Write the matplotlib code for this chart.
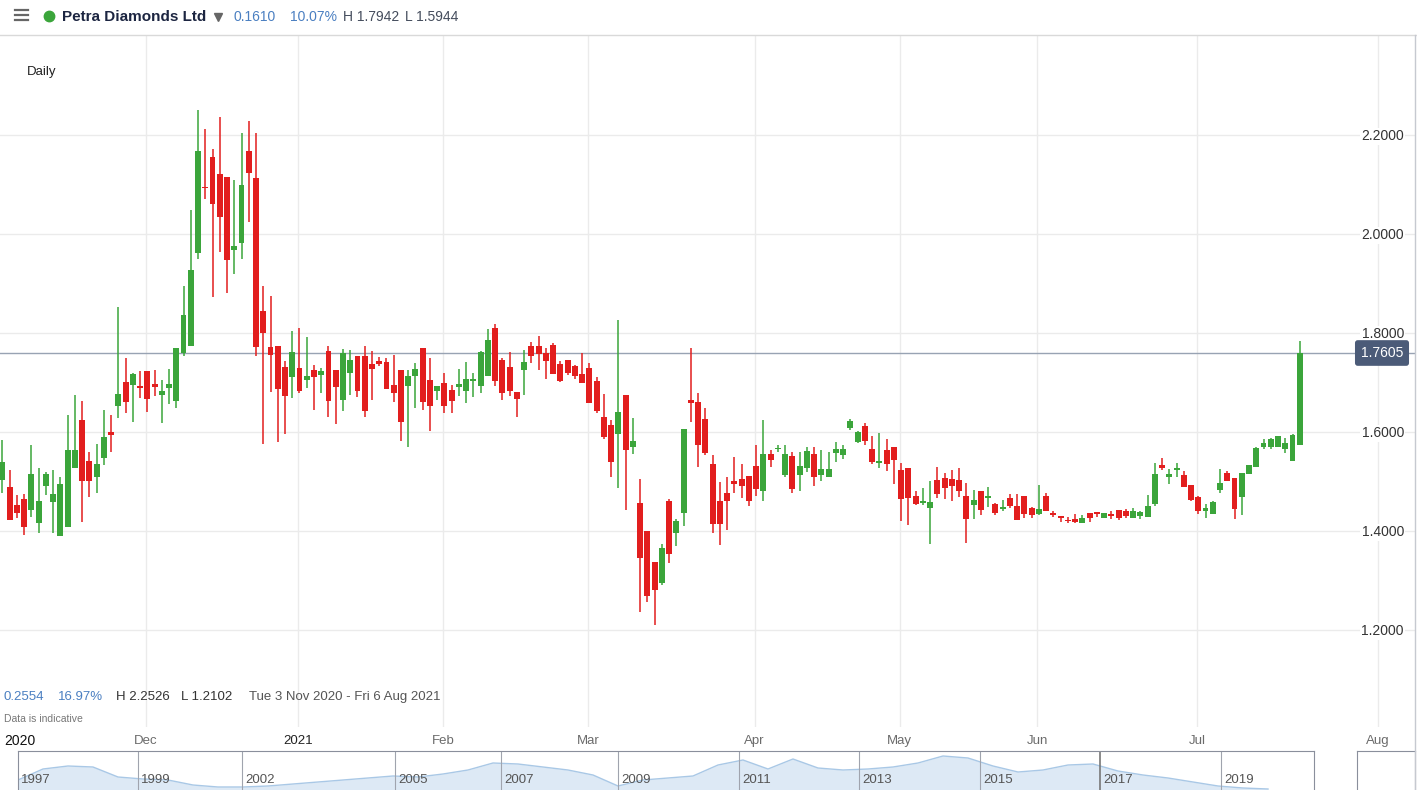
import numpy as np
import matplotlib
matplotlib.use("Agg")
import matplotlib.pyplot as plt
from matplotlib.lines import Line2D

plt.rcParams['font.family'] = ['Liberation Sans', 'DejaVu Sans']

# daily OHLC, Petra Diamonds, 3 Nov 2020 onwards
opens = [1.503, 1.488, 1.453, 1.465, 1.442, 1.417, 1.490, 1.459, 1.389, 1.409,
         1.527, 1.624, 1.541, 1.510, 1.548, 1.600, 1.653, 1.701, 1.694, 1.692,
         1.723, 1.697, 1.675, 1.688, 1.663, 1.759, 1.774, 1.962, 2.095, 2.156,
         2.121, 2.115, 1.968, 1.982, 2.168, 2.113, 1.844, 1.772, 1.773, 1.731,
         1.711, 1.729, 1.705, 1.725, 1.715, 1.763, 1.725, 1.665, 1.719, 1.753,
         1.753, 1.737, 1.743, 1.741, 1.695, 1.725, 1.693, 1.713, 1.769, 1.705,
         1.683, 1.699, 1.685, 1.691, 1.683, 1.703, 1.693, 1.713, 1.811, 1.745,
         1.731, 1.681, 1.725, 1.773, 1.773, 1.759, 1.775, 1.737, 1.745, 1.733,
         1.717, 1.729, 1.703, 1.631, 1.615, 1.595, 1.675, 1.569, 1.457, 1.400,
         1.337, 1.294, 1.461, 1.395, 1.436, 1.664, 1.660, 1.626, 1.536, 1.461,
         1.477, 1.501, 1.505, 1.511, 1.532, 1.480, 1.556, 1.565, 1.514, 1.552,
         1.514, 1.528, 1.556, 1.514, 1.510, 1.558, 1.554, 1.609, 1.579, 1.612,
         1.566, 1.538, 1.564, 1.570, 1.524, 1.528, 1.471, 1.456, 1.446, 1.502,
         1.508, 1.506, 1.502, 1.471, 1.452, 1.481, 1.466, 1.455, 1.444, 1.467,
         1.451, 1.471, 1.447, 1.434, 1.471, 1.437, 1.431, 1.423, 1.425, 1.416,
         1.437, 1.439, 1.427, 1.435, 1.443, 1.441, 1.427, 1.431, 1.429, 1.455,
         1.533, 1.509, 1.523, 1.513, 1.493, 1.469, 1.441, 1.435, 1.483, 1.517,
         1.507, 1.469, 1.515, 1.529, 1.569, 1.569, 1.569, 1.565, 1.541, 1.573]
highs = [1.584, 1.523, 1.473, 1.475, 1.574, 1.527, 1.520, 1.523, 1.510, 1.634,
         1.675, 1.663, 1.560, 1.576, 1.644, 1.634, 1.853, 1.750, 1.720, 1.723,
         1.723, 1.725, 1.705, 1.727, 1.770, 1.894, 2.048, 2.251, 2.212, 2.172,
         2.237, 2.115, 2.109, 2.204, 2.228, 2.204, 1.895, 1.875, 1.773, 1.743,
         1.805, 1.811, 1.791, 1.735, 1.729, 1.773, 1.725, 1.767, 1.765, 1.753,
         1.773, 1.763, 1.751, 1.749, 1.755, 1.725, 1.725, 1.739, 1.769, 1.749,
         1.693, 1.719, 1.695, 1.727, 1.741, 1.719, 1.763, 1.809, 1.819, 1.749,
         1.761, 1.681, 1.765, 1.781, 1.793, 1.769, 1.779, 1.743, 1.745, 1.735,
         1.759, 1.739, 1.711, 1.677, 1.625, 1.827, 1.675, 1.629, 1.505, 1.400,
         1.337, 1.374, 1.465, 1.424, 1.606, 1.769, 1.679, 1.648, 1.554, 1.499,
         1.509, 1.550, 1.536, 1.511, 1.574, 1.624, 1.564, 1.573, 1.574, 1.560,
         1.560, 1.570, 1.570, 1.564, 1.560, 1.580, 1.574, 1.626, 1.602, 1.618,
         1.591, 1.597, 1.585, 1.570, 1.538, 1.528, 1.481, 1.486, 1.500, 1.530,
         1.518, 1.524, 1.528, 1.496, 1.483, 1.481, 1.488, 1.457, 1.463, 1.475,
         1.475, 1.471, 1.449, 1.492, 1.477, 1.441, 1.431, 1.429, 1.435, 1.433,
         1.437, 1.439, 1.437, 1.441, 1.443, 1.445, 1.447, 1.441, 1.473, 1.537,
         1.547, 1.525, 1.537, 1.521, 1.493, 1.471, 1.455, 1.461, 1.525, 1.521,
         1.507, 1.517, 1.533, 1.569, 1.585, 1.587, 1.591, 1.587, 1.595, 1.783]
lows = [1.476, 1.422, 1.426, 1.392, 1.429, 1.395, 1.473, 1.395, 1.389, 1.409,
        1.527, 1.419, 1.469, 1.476, 1.533, 1.560, 1.628, 1.639, 1.621, 1.669,
        1.641, 1.673, 1.619, 1.656, 1.649, 1.754, 1.774, 1.949, 2.070, 1.872,
        1.964, 1.881, 1.920, 1.950, 2.025, 1.754, 1.575, 1.681, 1.579, 1.595,
        1.669, 1.679, 1.689, 1.645, 1.679, 1.631, 1.617, 1.643, 1.675, 1.671,
        1.631, 1.665, 1.733, 1.687, 1.661, 1.581, 1.569, 1.649, 1.645, 1.601,
        1.665, 1.639, 1.639, 1.673, 1.659, 1.671, 1.679, 1.713, 1.693, 1.665,
        1.673, 1.631, 1.675, 1.739, 1.725, 1.707, 1.717, 1.701, 1.715, 1.707,
        1.699, 1.659, 1.639, 1.585, 1.509, 1.487, 1.443, 1.555, 1.237, 1.257,
        1.210, 1.290, 1.336, 1.370, 1.411, 1.621, 1.530, 1.554, 1.395, 1.371,
        1.401, 1.476, 1.466, 1.450, 1.470, 1.460, 1.530, 1.560, 1.510, 1.476,
        1.480, 1.520, 1.490, 1.500, 1.510, 1.540, 1.546, 1.605, 1.577, 1.574,
        1.536, 1.528, 1.522, 1.494, 1.421, 1.413, 1.452, 1.452, 1.373, 1.466,
        1.464, 1.460, 1.468, 1.375, 1.424, 1.432, 1.448, 1.432, 1.440, 1.446,
        1.422, 1.426, 1.426, 1.432, 1.440, 1.428, 1.418, 1.416, 1.416, 1.416,
        1.419, 1.429, 1.427, 1.425, 1.423, 1.427, 1.427, 1.425, 1.429, 1.451,
        1.523, 1.495, 1.509, 1.489, 1.461, 1.435, 1.427, 1.435, 1.477, 1.501,
        1.425, 1.433, 1.515, 1.529, 1.565, 1.565, 1.569, 1.557, 1.541, 1.573]
closes = [1.540, 1.422, 1.437, 1.409, 1.515, 1.461, 1.515, 1.474, 1.495, 1.564,
          1.564, 1.500, 1.500, 1.535, 1.590, 1.593, 1.677, 1.661, 1.717, 1.688,
          1.667, 1.690, 1.683, 1.697, 1.770, 1.836, 1.927, 2.168, 2.092, 2.061,
          2.035, 1.948, 1.976, 2.099, 2.124, 1.772, 1.799, 1.756, 1.687, 1.673,
          1.761, 1.683, 1.713, 1.711, 1.723, 1.663, 1.691, 1.759, 1.745, 1.683,
          1.643, 1.727, 1.737, 1.687, 1.679, 1.621, 1.713, 1.727, 1.661, 1.653,
          1.693, 1.653, 1.663, 1.697, 1.707, 1.707, 1.761, 1.785, 1.703, 1.679,
          1.683, 1.667, 1.741, 1.753, 1.757, 1.743, 1.717, 1.703, 1.719, 1.713,
          1.699, 1.659, 1.643, 1.589, 1.539, 1.641, 1.563, 1.581, 1.345, 1.269,
          1.281, 1.366, 1.354, 1.420, 1.606, 1.659, 1.574, 1.558, 1.415, 1.415,
          1.460, 1.494, 1.490, 1.460, 1.484, 1.556, 1.544, 1.566, 1.556, 1.484,
          1.532, 1.562, 1.510, 1.525, 1.525, 1.566, 1.566, 1.622, 1.600, 1.581,
          1.540, 1.542, 1.536, 1.544, 1.464, 1.466, 1.454, 1.460, 1.459, 1.474,
          1.486, 1.490, 1.480, 1.424, 1.463, 1.442, 1.471, 1.436, 1.449, 1.450,
          1.422, 1.434, 1.432, 1.445, 1.440, 1.432, 1.426, 1.420, 1.418, 1.427,
          1.427, 1.435, 1.437, 1.431, 1.427, 1.431, 1.441, 1.439, 1.451, 1.515,
          1.527, 1.515, 1.527, 1.489, 1.463, 1.441, 1.447, 1.459, 1.497, 1.501,
          1.445, 1.517, 1.533, 1.567, 1.577, 1.585, 1.591, 1.577, 1.593, 1.7605]

month_labels = ['Dec', '2021', 'Feb', 'Mar', 'Apr', 'May', 'Jun', 'Jul', 'Aug']
month_idx = [20, 41, 61, 81, 104, 124, 143, 165, 190]
y_ticks = [1.2, 1.4, 1.6, 1.8, 2.0, 2.2]
last_price = 1.7605

# navigator (long history) - relative level read from the strip
nav_years = ['1997', '1999', '2002', '2005', '2007', '2009', '2011', '2013', '2015', '2017', '2019']
nav_level = [10, 21, 24, 23, 13, 11, 10, 5, 3, 3, 4, 6, 8, 10, 12, 14, 13, 16, 20, 27,
             26, 23, 20, 15, 4, 10, 12, 14, 25, 30, 21, 31, 22, 20, 21, 23, 27, 34, 32, 24,
             18, 20, 25, 26, 19, 15, 12, 8, 4, 2, 1]

GREEN = '#3ba53b'
RED = '#e21e1e'
W, H = 1417, 790


def fy(py):
    return 1 - py / H


fig = plt.figure(figsize=(W / 100, H / 100), dpi=100)

# main price panel
ax = fig.add_axes([0, fy(727), 1415 / W, (727 - 35) / H])
ax.set_xlim(-0.32, 194.9)
ax.set_ylim(1.004, 2.402)
for s in ax.spines.values():
    s.set_visible(False)

o = np.array(opens)
c = np.array(closes)
idx = np.arange(len(o))
cols = np.where(c >= o, GREEN, RED)
ax.vlines(idx, lows, highs, colors=cols, lw=1.1, zorder=3)
ax.bar(idx, np.maximum(np.abs(c - o), 0.003), bottom=np.minimum(o, c),
       width=0.82, color=cols, lw=0, zorder=4)

ax.axhline(last_price, color='#98a3b3', lw=1, zorder=2)

ax.set_axisbelow(True)
ax.grid(True, color='#ebebeb', lw=1)
ax.set_xticks(np.array(month_idx) - 0.2)
ax.set_xticklabels(month_labels)
ax.tick_params(axis='x', length=0, pad=6, labelsize=9.5)
for lbl in ax.get_xticklabels():
    lbl.set_color('#222222' if lbl.get_text().isdigit() else '#6b6b6b')

ax.yaxis.tick_right()
ax.set_yticks(y_ticks)
ax.set_yticklabels(['%.4f' % v for v in y_ticks])
ax.tick_params(axis='y', length=0, pad=-8, labelsize=10, labelcolor='#333333')
for lbl in ax.get_yticklabels():
    lbl.set_horizontalalignment('right')
    lbl.set_bbox(dict(facecolor='white', edgecolor='none', pad=1))

fig.text(1382 / W, fy(353), '%.4f' % last_price, ha='center', va='center',
         color='white', fontsize=10,
         bbox=dict(boxstyle='round,pad=0.42,rounding_size=0.2', fc='#4b5b78', ec='none'))

# header bar
fig.add_artist(Line2D([0, 1], [fy(35), fy(35)], color='#d9d9d9', lw=1))
for yy in (10, 15, 20):
    fig.add_artist(Line2D([15 / W, 28 / W], [fy(yy), fy(yy)], color='#666666', lw=1.6))
fig.add_artist(Line2D([49 / W], [fy(16)], marker='o', ms=7.5, color=GREEN, lw=0))
fig.text(62 / W, fy(17), 'Petra Diamonds Ltd', fontsize=11, fontweight='bold',
         color='#1c2541', va='center')
fig.add_artist(Line2D([218 / W], [fy(17)], marker='v', ms=5.5, color='#666666', lw=0))
fig.text(234 / W, fy(17), '0.1610', fontsize=10, color='#4a7fc1', va='center')
fig.text(290 / W, fy(17), '10.07%', fontsize=10, color='#4a7fc1', va='center')
fig.text(343 / W, fy(17), 'H 1.7942', fontsize=10, color='#444c5c', va='center')
fig.text(405 / W, fy(17), 'L 1.5944', fontsize=10, color='#444c5c', va='center')

fig.text(27 / W, fy(72), 'Daily', fontsize=9.5, color='#222222', va='center')

# range stats
fig.text(4 / W, fy(697), '0.2554', fontsize=9.5, color='#4a7fc1', va='center')
fig.text(58 / W, fy(697), '16.97%', fontsize=9.5, color='#4a7fc1', va='center')
fig.text(116 / W, fy(697), 'H 2.2526', fontsize=9.5, color='#333333', va='center')
fig.text(181 / W, fy(697), 'L 1.2102', fontsize=9.5, color='#333333', va='center')
fig.text(249 / W, fy(697), 'Tue 3 Nov 2020 - Fri 6 Aug 2021', fontsize=9.5,
         color='#555555', va='center')
fig.text(4 / W, fy(719), 'Data is indicative', fontsize=7.5, color='#777777', va='center')
fig.text(4 / W, fy(741), '2020', fontsize=10, color='#111111', va='center')

# right border
fig.add_artist(Line2D([1415 / W, 1415 / W], [fy(35), 0], color='#c6c9d0', lw=1))

# navigator strip
nav = fig.add_axes([18 / W, 0, (1314 - 18) / W, 39 / H])
nx = np.linspace(0, (1268 - 18) / (1314 - 18), len(nav_level))
nav.fill_between(nx, 0, nav_level, color='#dde9f5', lw=0)
nav.plot(nx, nav_level, color='#a9c8e6', lw=1)
nav.set_xlim(0, 1)
nav.set_ylim(0, 39)
nav.set_xticks([])
nav.set_yticks([])
for k, s in nav.spines.items():
    s.set_color('#8a8f9c')
nav.spines['bottom'].set_visible(False)
sep_px = [18, 138, 242, 395, 501, 618, 739, 859, 980, 1100, 1221]
for px, yr in zip(sep_px, nav_years):
    xf = (px - 18) / (1314 - 18)
    if px > 18:
        nav.axvline(xf, color='#777777' if yr == '2017' else '#a0a4ae', lw=1.2 if yr == '2017' else 0.8)
    nav.text(xf + 3 / (1314 - 18), 10, yr, fontsize=9.5, color='#555555', va='center')

box = fig.add_axes([1357 / W, 0, 58 / W, 39 / H])
box.set_xticks([])
box.set_yticks([])
for k, s in box.spines.items():
    s.set_color('#8a8f9c')
box.spines['bottom'].set_visible(False)

fig.savefig('out.png', dpi=100)
